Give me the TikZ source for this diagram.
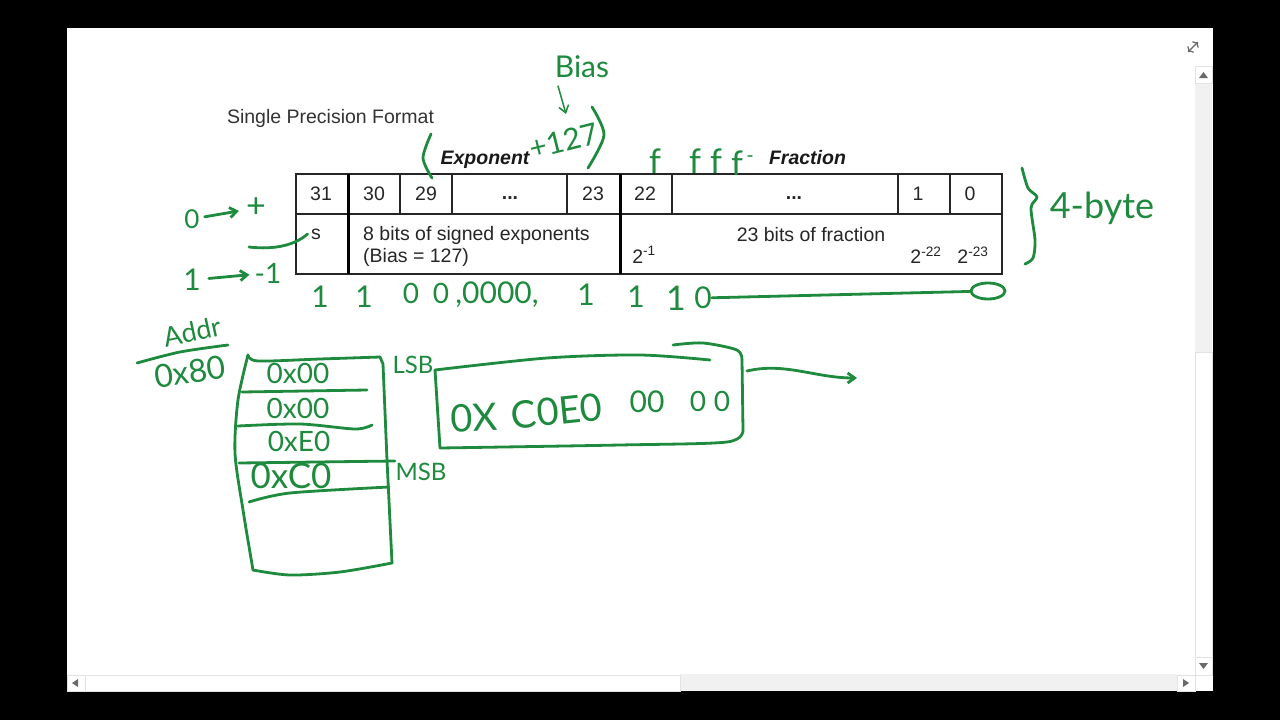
\documentclass[tikz,border=0pt]{standalone}
\usepackage{xcolor}
\usepackage{fontspec}
\usepackage{tikz}
\usetikzlibrary{shapes.geometric,arrows.meta}
\setmainfont{Liberation Sans}
\newfontfamily\inkfont{Lato}
\definecolor{inkgreen}{RGB}{30,138,62}
\definecolor{gridgray}{RGB}{226,226,226}
\definecolor{trackgray}{RGB}{241,241,241}
\definecolor{tipgray}{RGB}{105,105,105}
\tikzset{
    cell/.style={font=\fontsize{19.5}{19.5}\selectfont, text=black!85},
    head/.style={font=\fontsize{19.5}{19.5}\selectfont\bfseries\itshape, text=black!90},
    ink/.style={draw=inkgreen, line width=2.8pt, line cap=round, line join=round, >={Straight Barb[length=7pt,width=10pt]}},
    scribble/.style={text=inkgreen, inner sep=0pt, font=\inkfont\fontsize{#1}{#1}\selectfont},
    scrollbtn/.style={draw=gridgray, fill=white, line width=1pt},
    tip/.style={fill=tipgray, draw=none}
}
\begin{document}
\begin{tikzpicture}[x=1pt,y=-1pt]
    \useasboundingbox (0,0) rectangle (1280,720);
    % window
    \fill[black] (0,0) rectangle (1280,720);
    \fill[white] (67,28) rectangle (1213,691);
    \fill[trackgray] (1195,83) rectangle (1212,352);
    \fill[trackgray] (680,674) rectangle (1177,691);
    \draw[scrollbtn] (1195,66) rectangle (1212,83);
    \draw[scrollbtn] (1195,352) rectangle (1212,657);
    \draw[scrollbtn] (1195,657) rectangle (1212,675);
    \draw[scrollbtn] (67,675) rectangle (85,691);
    \draw[scrollbtn] (85,675) rectangle (680,691);
    \draw[scrollbtn] (1177,675) rectangle (1195,691);
    \fill[tip] (1199,78) -- (1203.5,72) -- (1208,78) -- cycle;
    \fill[tip] (1199,663) -- (1208,663) -- (1203.5,669) -- cycle;
    \fill[tip] (78,679) -- (78,687) -- (72,683) -- cycle;
    \fill[tip] (1183,679) -- (1183,687) -- (1189,683) -- cycle;
    \draw[tipgray, line width=1.2pt, <->] (1188,52) -- (1198,42);

    % printed table
    \node[cell, text=black!80] (title) at (330.5,118) {Single Precision Format};
    \node[head] (exponent) at (485,160) {Exponent};
    \node[head] (fraction) at (807.5,158) {Fraction};
    \draw[line width=1.5pt, black!85] (296,174) rectangle (1002,274);
    \draw[line width=1.5pt, black!85] (296,214) -- (1002,214);
    \draw[line width=3pt, black] (348,174) -- (348,274);
    \draw[line width=3pt, black] (620,174) -- (620,274);
    \draw[line width=1.2pt, black!85] (400,174) -- (400,214);
    \draw[line width=1.2pt, black!85] (452,174) -- (452,214);
    \draw[line width=1.2pt, black!85] (567,174) -- (567,214);
    \draw[line width=1.2pt, black!85] (672,174) -- (672,214);
    \draw[line width=1.2pt, black!85] (898,174) -- (898,214);
    \draw[line width=1.2pt, black!85] (950,174) -- (950,214);
    \node[cell] (bit31) at (321,194) {31};
    \node[cell] (bit30) at (374,194) {30};
    \node[cell] (bit29) at (426,194) {29};
    \node[cell] (dotsA) at (510,198) {\textbf{...}};
    \node[cell] (bit23) at (593,194) {23};
    \node[cell] (bit22) at (645,194) {22};
    \node[cell] (dotsB) at (794,198) {\textbf{...}};
    \node[cell] (bit1) at (918,194) {1};
    \node[cell] (bit0) at (970,194) {0};
    \node[cell] (sign) at (316,234) {s};
    \node[cell, anchor=west, inner sep=0pt] (expA) at (363,235) {8 bits of signed exponents};
    \node[cell, anchor=west, inner sep=0pt] (expB) at (363,257) {(Bias = 127)};
    \node[cell] (fracbits) at (811,235) {23 bits of fraction};
    \node[cell] (pow1) at (644,255) {2\textsuperscript{-1}};
    \node[cell] (pow22) at (926,255) {2\textsuperscript{-22}};
    \node[cell] (pow23) at (973,255) {2\textsuperscript{-23}};

    % handwriting above the table
    \node[scribble=30] (bias) at (582,67) {Bias};
    \node[scribble=30, rotate=14] (plus127) at (564,141) {+127};
    \coordinate (biastip) at (566,114);
    \draw[ink, line width=1.5pt, ->] (558,86) -- (biastip);
    \draw[ink] plot[smooth] coordinates {(431,134) (423,158) (432,178)};
    \draw[ink] plot[smooth] coordinates {(592,107) (604,135) (588,168)};
    \node[scribble=34] (fA) at (655,161) {f};
    \node[scribble=34] (fB) at (695,161) {f};
    \node[scribble=34] (fC) at (716,161) {f};
    \node[scribble=34] (fD) at (737,163) {f};
    \node[scribble=20] (fdash) at (750,159) {-};

    % brace
    \draw[ink] plot[smooth] coordinates {(1022,168) (1028,188) (1037,197) (1031,208) (1035,240) (1033,258) (1025,264)};
    \node[scribble=36] (fourbyte) at (1102,208) {4-byte};

    % sign
    \node[scribble=26] (zero) at (192,219) {0};
    \node[scribble=34] (plus) at (256,208) {+};
    \node[scribble=30] (one) at (192,280) {1};
    \node[scribble=28] (minus) at (268,273) {-1};
    \draw[ink, ->, shorten <=5pt, shorten >=7pt] (zero) -- (plus);
    \draw[ink, ->, shorten <=8pt, shorten >=5pt] (one) -- (minus);
    \coordinate (signfree) at (249,247);
    \draw[ink] (signfree) .. controls (275,250) and (295,245) .. (sign.west);

    % binary digits
    \node[scribble=30] (dA) at (320,297) {1};
    \node[scribble=30] (dB) at (364,297) {1};
    \node[scribble=28] (dC) at (411,293) {0};
    \node[scribble=28] (dD) at (441,293) {0};
    \node[scribble=30] (dE) at (497,295) {,0000,};
    \node[scribble=30] (dF) at (586,295) {1};
    \node[scribble=30] (dG) at (636,297) {1};
    \node[scribble=34] (dH) at (676,298) {1};
    \node[scribble=30] (dI) at (703,298) {0};
    \node[ink, ellipse, minimum width=34pt, minimum height=16pt, inner sep=0pt] (lastbit) at (988,291) {};
    \draw[ink] (dI) -- (lastbit);

    % memory
    \node[scribble=27, rotate=12] (addr) at (192,332) {Addr};
    \draw[ink] plot[smooth] coordinates {(137,363) (180,352) (228,345)};
    \node[scribble=32, rotate=8] (base) at (190,372) {0x80};
    \draw[ink] plot[smooth] coordinates {(248,355) (258,361) (320,359) (380,357)};
    \draw[ink] (380,357) -- (383,364) -- (387,460) -- (392,563);
    \draw[ink] plot[smooth] coordinates {(392,563) (340,572) (290,575) (253,570)};
    \draw[ink] plot[smooth] coordinates {(253,570) (243,510) (235,453) (238,400) (248,355)};
    \draw[ink] (242,392) -- (367,390);
    \draw[ink] plot[smooth] coordinates {(238,426) (300,424) (355,429) (372,425)};
    \draw[ink] (239,463) -- (395,461);
    \draw[ink] plot[smooth] coordinates {(249,502) (290,493) (389,487)};
    \node[scribble=28] (byteA) at (298,373) {0x00};
    \node[scribble=28] (byteB) at (298,408) {0x00};
    \node[scribble=28] (byteC) at (299,441) {0xE0};
    \node[scribble=35] (byteD) at (291,476) {0xC0};
    \node[scribble=24] (lsb) at (413,365) {LSB};
    \node[scribble=24] (msb) at (421,472) {MSB};

    % register
    \draw[ink] plot[smooth] coordinates {(435,370) (547,358) (640,355) (710,360)};
    \draw[ink] plot[smooth] coordinates {(673,345) (703,343) (737,350) (742,360)};
    \draw[ink] (742,360) -- (743,430);
    \draw[ink] plot[smooth] coordinates {(743,430) (727,442) (620,445) (440,448)};
    \draw[ink] (440,448) -- (435,370);
    \node[scribble=38, rotate=3] (hexA) at (474,418) {0X};
    \node[scribble=38, rotate=6] (hexB) at (557,411) {C0E0};
    \node[scribble=30] (hexC) at (647,402) {00};
    \node[scribble=28] (hexD) at (710,401) {0\hspace{8pt}0};
    \coordinate (outfrom) at (747,371);
    \coordinate (outto) at (857,378);
    \draw[ink, ->] (outfrom) .. controls (785,362) and (815,378) .. (outto);
\end{tikzpicture}
\end{document}
